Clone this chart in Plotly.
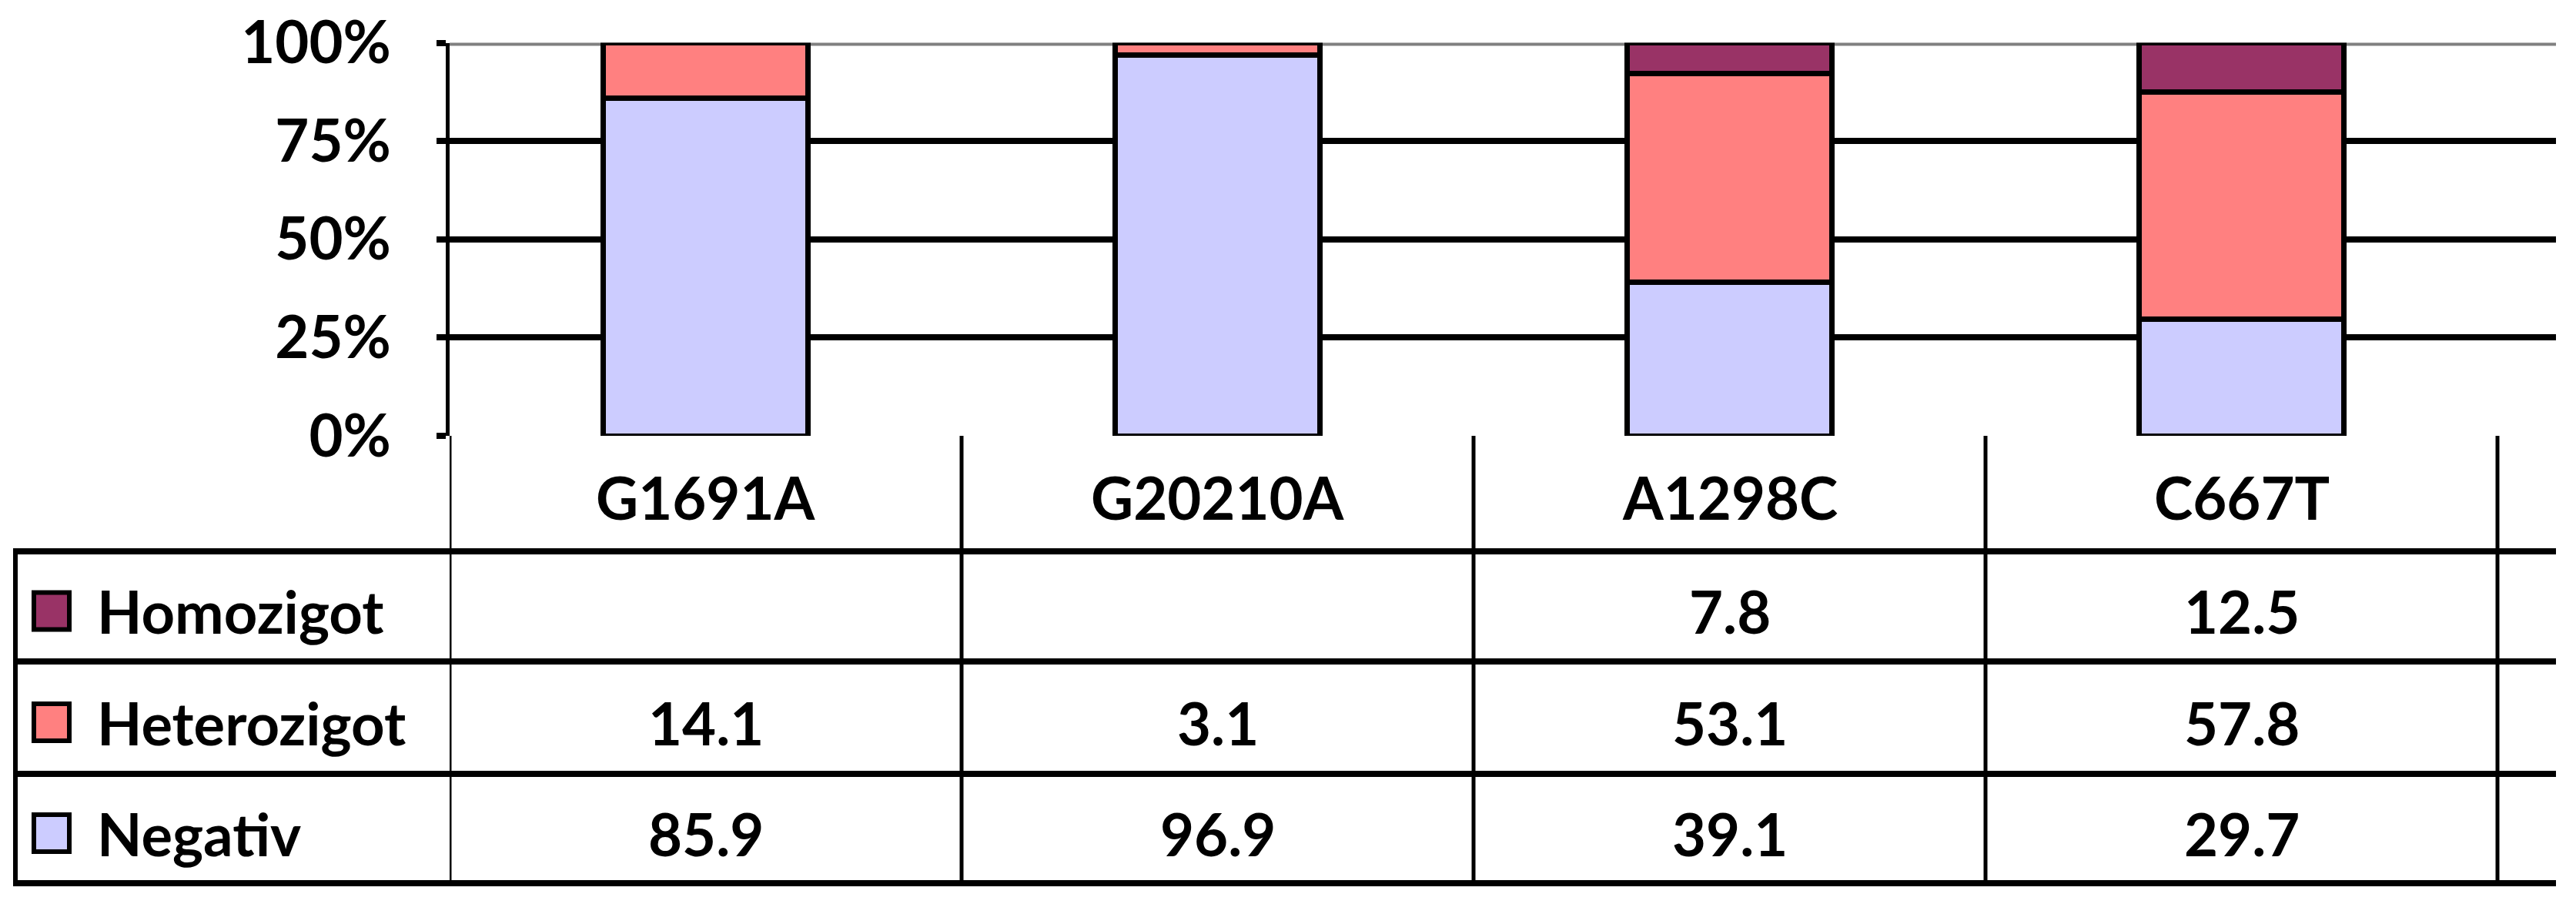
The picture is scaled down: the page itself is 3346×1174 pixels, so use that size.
import plotly.graph_objects as go

# ---- data ----
categories = ["G1691A", "G20210A", "A1298C", "C667T"]
series_names = ["Negativ", "Heterozigot", "Homozigot"]
negativ = [85.9, 96.9, 39.1, 29.7]
heterozigot = [14.1, 3.1, 53.1, 57.8]
homozigot = [None, None, 7.8, 12.5]
y_ticks = [0, 25, 50, 75, 100]
y_tick_text = ["0%", "25%", "50%", "75%", "100%"]
colors = {"Negativ": "#CCCCFF", "Heterozigot": "#FF8080", "Homozigot": "#993366"}

W, H = 3346, 1174
FONT = "Lato"
FS = 76

def px(x):
    return x / W

def py(y):
    return 1 - y / H

# layout geometry (pixels)
x_left, cat_w, x_right = 584, 665, 3320
y_top, y_zero = 55.5, 566
row_lines = [716, 859, 1005, 1147]
table_left = 20

values = {"Negativ": negativ, "Heterozigot": heterozigot, "Homozigot": homozigot}

fig = go.Figure()
for name in series_names:
    fig.add_trace(go.Bar(
        x=list(range(len(categories))), y=values[name], name=name,
        marker=dict(color=colors[name], line=dict(color="black", width=7)),
        width=0.40, showlegend=False,
    ))

x_range = [-0.5, -0.5 + (x_right - x_left) / cat_w]

shapes = []
# gray 100% line
shapes.append(dict(type="line", xref="paper", yref="y", x0=px(x_left), x1=px(x_right),
                   y0=100, y1=100, line=dict(color="#808080", width=8), layer="below"))
# vertical table lines
for b in [-0.5, 0.5, 1.5, 2.5, 3.5]:
    shapes.append(dict(type="line", xref="x", yref="paper", x0=b, x1=b,
                       y0=py(y_zero), y1=py(row_lines[-1]),
                       line=dict(color="black", width=5)))
# left border of table
shapes.append(dict(type="line", xref="paper", yref="paper", x0=px(table_left), x1=px(table_left),
                   y0=py(row_lines[0]), y1=py(row_lines[-1]), line=dict(color="black", width=6)))
# horizontal table lines
for ry in row_lines:
    shapes.append(dict(type="line", xref="paper", yref="paper", x0=px(table_left - 3), x1=px(x_right),
                       y0=py(ry), y1=py(ry), line=dict(color="black", width=8)))

annotations = []
# header row
for i, c in enumerate(categories):
    annotations.append(dict(x=i, xref="x", y=py((y_zero + row_lines[0]) / 2 + 4), yref="paper",
                            text=c, showarrow=False, xanchor="center", yanchor="middle",
                            font=dict(family=FONT, size=FS, color="black", weight="bold")))
# data rows: top to bottom Homozigot, Heterozigot, Negativ
row_order = ["Homozigot", "Heterozigot", "Negativ"]
for r, name in enumerate(row_order):
    yc = (row_lines[r] + row_lines[r + 1]) / 2 + 6
    # key square
    shapes.append(dict(type="rect", xref="paper", yref="paper",
                       x0=px(44), x1=px(90), y0=py(yc - 24), y1=py(yc + 24),
                       fillcolor=colors[name], line=dict(color="black", width=6)))
    annotations.append(dict(x=px(124), xref="paper", y=py(yc), yref="paper",
                            text=name, showarrow=False, xanchor="left", yanchor="middle",
                            font=dict(family=FONT, size=FS, color="black", weight="bold")))
    for i, v in enumerate(values[name]):
        if v is None:
            continue
        annotations.append(dict(x=i, xref="x", y=py(yc), yref="paper",
                                text=f"{v:.1f}", showarrow=False, xanchor="center", yanchor="middle",
                                font=dict(family=FONT, size=FS, color="black", weight="bold")))

fig.update_layout(
    width=W, height=H, margin=dict(l=0, r=0, t=0, b=0, autoexpand=False),
    paper_bgcolor="white", plot_bgcolor="white",
    barmode="stack", bargap=0.6,
    shapes=shapes, annotations=annotations,
    xaxis=dict(domain=[px(x_left), px(x_right)], range=x_range, showticklabels=False,
               showgrid=False, zeroline=False, showline=False, ticks="", automargin=False),
    yaxis=dict(domain=[py(y_zero), py(y_top)], range=[0, 100],
               tickmode="array", tickvals=y_ticks, ticktext=y_tick_text,
               showgrid=True, gridcolor="black", gridwidth=8, automargin=False,
               zeroline=False, showline=True, linecolor="black", linewidth=5,
               ticks="outside", ticklen=12, tickwidth=8, tickcolor="black",
               ticklabelstandoff=44,
               tickfont=dict(family=FONT, size=FS, color="black", weight="bold")),
)

fig.write_html("out.html")
